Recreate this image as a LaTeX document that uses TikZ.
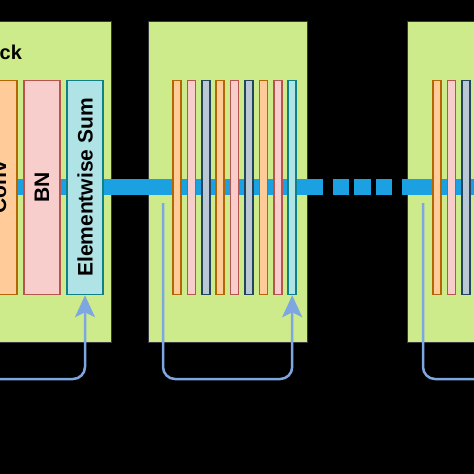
\documentclass[tikz,border=0pt]{standalone}
\usepackage{fontspec}
\setmainfont{Liberation Sans}
\usetikzlibrary{arrows.meta}

\definecolor{blockgreen}{HTML}{CDEB8B}
\definecolor{blockline}{HTML}{36393D}
\definecolor{convfill}{HTML}{FFCC99}
\definecolor{convline}{HTML}{B46504}
\definecolor{bnfill}{HTML}{F8CECC}
\definecolor{bnline}{HTML}{B85450}
\definecolor{actfill}{HTML}{BAC8D3}
\definecolor{actline}{HTML}{23445D}
\definecolor{sumfill}{HTML}{B0E3E6}
\definecolor{sumline}{HTML}{0E8088}
\definecolor{busblue}{HTML}{1BA1E2}
\definecolor{skipblue}{HTML}{7EA6E0}

\tikzset{
  block/.style={draw=blockline, fill=blockgreen, line width=1pt, inner sep=0pt},
  bar/.style={line width=1.5pt, inner sep=0pt, minimum height=214pt, font=\bfseries\fontsize{21}{21}\selectfont},
  wide/.style={bar, minimum width=36pt},
  thin/.style={bar, minimum width=8pt},
  conv/.style={fill=convfill, draw=convline},
  bn/.style={fill=bnfill, draw=bnline},
  act/.style={fill=actfill, draw=actline},
  sum/.style={fill=sumfill, draw=sumline},
  bus/.style={fill=busblue, draw=none},
  skip/.style={draw=skipblue, line width=2.5pt, rounded corners=12pt,
    -{Stealth[length=22pt, width=20pt, inset=5pt]}}
}

\begin{document}
\begin{tikzpicture}[x=1pt, y=-1pt]
\fill[black] (0,0) rectangle (474,474);
\useasboundingbox (0,0) rectangle (474,474);

% blocks
\draw[block] (-60,21) rectangle (111,342);
\draw[block] (148,21) rectangle (307,342);
\draw[block] (407,21) rectangle (560,342);
\node[anchor=base east, font=\bfseries\fontsize{20}{20}\selectfont] (title) at (25.5,59) {ck};

% main path
\fill[bus] (-10,179) rectangle (323,195);
\foreach \xa/\xb in {333/349, 354/371, 376/392}
  \fill[bus] (\xa,179) rectangle (\xb,195);
\fill[bus] (402,179) rectangle (560,195);

% first block, full layers
\node[wide, conv] (conv1) at (-1,187.5) {\rotatebox{90}{Conv}};
\node[wide, bn] (bn1) at (42,187.5) {\rotatebox{90}{BN}};
\node[wide, sum] (sum1) at (85,187.5) {\rotatebox{90}{Elementwise Sum}};

% second block, thin layers
\foreach \i/\kind in {0/conv, 1/bn, 2/act, 3/conv, 4/bn, 5/act, 6/conv, 7/bn, 8/sum}
  \node[thin, \kind] (l2-\i) at (177+\i*14.4,187.5) {};

% third block
\foreach \i/\kind in {0/conv, 1/bn, 2/act, 3/conv}
  \node[thin, \kind] (l3-\i) at (437+\i*14.4,187.5) {};

% skip connections
\coordinate (in1) at (-10,379);
\draw[skip] (in1) -| (sum1.south);

\coordinate (in2) at (163,203);
\coordinate (low2) at (163,379);
\draw[skip] (in2) -- (low2) -| (l2-8.south);

\coordinate (in3) at (423,203);
\coordinate (out3) at (560,379);
\draw[skip, -] (in3) |- (out3);
\end{tikzpicture}
\end{document}
